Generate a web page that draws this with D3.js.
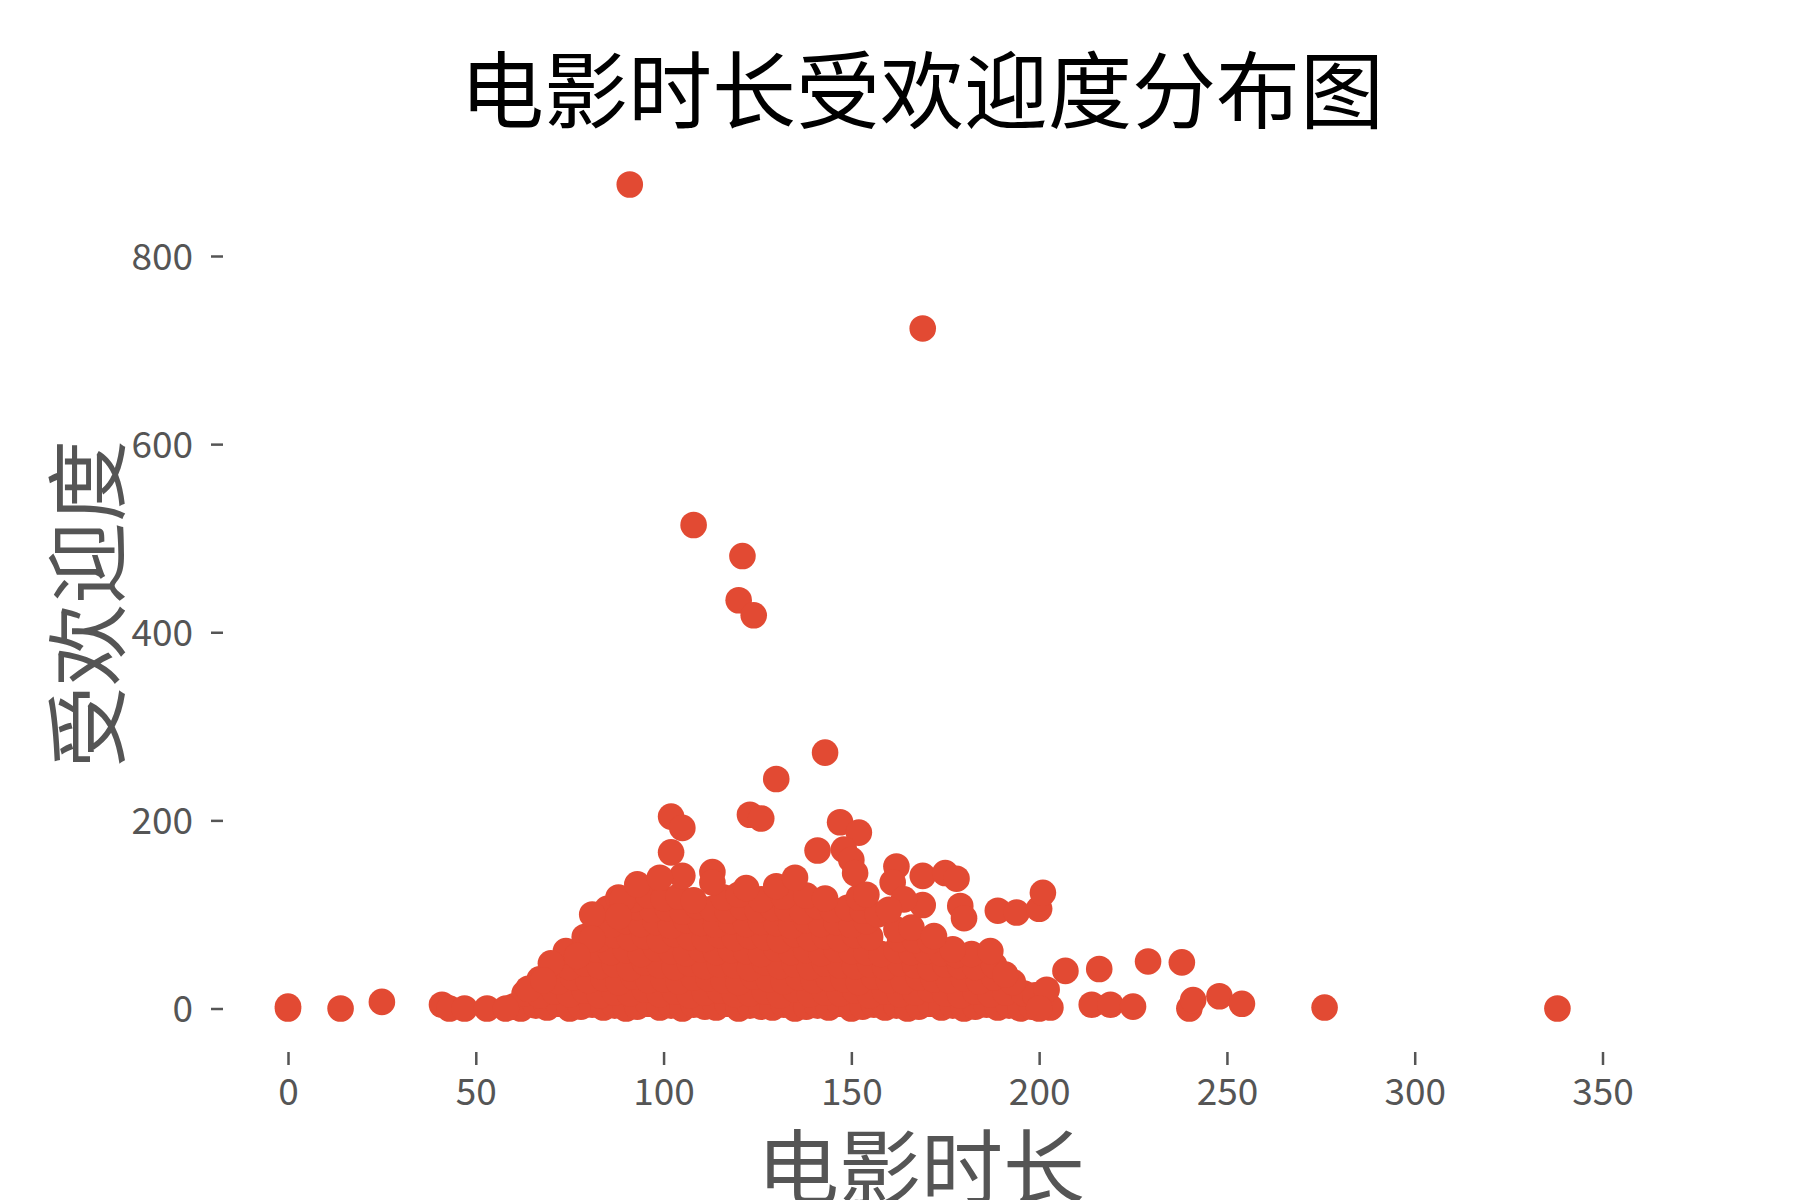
<!DOCTYPE html>
<html><head><meta charset="utf-8">
<script src="https://cdn.jsdelivr.net/npm/d3@7"></script>
<style>html,body{margin:0;padding:0;background:#fff;}svg{display:block;}</style>
</head><body>
<script>
// ---- data (duration in minutes, popularity) ----
const chartTitle = "电影时长受欢迎度分布图";
const xLabel = "电影时长";
const yLabel = "受欢迎度";
const xTicks = [0, 50, 100, 150, 200, 250, 300, 350];
const yTicks = [0, 200, 400, 600, 800];

// outliers and sparse points
const durationsSparse = [91,169,108,121,120,124,143,130,102,105,123,126,147,152,102,113,141,148,150,162,169,175,178,151,105,113,161,169,164,154,81,89,93,99,122,130,135,70,81,77,88,160,179,180,189,194,200,201,187,177,172,191,202,200,207,216,229,238,214,219,225,240,241,248,254,276,338,0,0,14,25,41,43,47,53,58,64,68];
const popularitySparse = [876,723,514,481,434,418,272,244,204,192,206,202,198,187,166,145,168,169,158,151,141,144,138,144,141,134,134,110,116,121,100,116,132,139,128,130,139,48,74,56,98,105,109,96,104,102,106,123,61,63,77,36,20,0,40,42,50,49,4,4,2,0,9,13,5,1,0,0,2,0,7,4,0,0,0,0,21,30];

// dense cluster rows
const durationsDense = [
 60,62,66,69,72,75,78,81,84,87,90,93,96,99,102,105,108,111,114,117,120,123,126,129,132,135,138,141,144,147,150,153,156,159,162,165,168,171,174,177,180,183,186,189,192,195,198,203,
 63,67,71,75,79,83,87,91,95,99,103,107,111,115,119,123,127,131,135,139,143,147,151,155,159,163,167,171,175,179,183,187,191,196,199,
 67,72,76,80,84,88,92,96,100,104,108,112,116,120,124,128,132,136,140,144,148,152,156,160,164,168,172,176,180,184,188,193,
 71,75,79,83,87,91,95,99,103,107,111,115,119,123,127,131,135,139,143,147,151,155,159,163,167,171,175,179,183,188,
 74,78,82,86,90,94,98,102,106,110,114,118,122,126,130,134,138,142,146,150,154,158,162,166,170,174,178,182,
 79,83,87,91,95,99,103,107,111,115,119,123,127,131,135,139,143,147,151,155,163,167,171,
 82,86,90,94,98,102,106,110,114,118,122,126,130,134,138,142,146,150,154,162,166,
 85,89,93,97,101,105,109,113,117,121,125,129,133,137,141,145,149,153,157,
 88,92,96,100,104,108,116,120,126,132,138,143,152
];
const popularityDense = [
 2,0,3,1,5,0,2,4,1,3,0,2,5,1,3,0,4,2,1,5,0,3,2,1,4,0,2,3,1,5,0,2,4,1,3,0,2,5,1,3,0,2,4,1,3,0,2,1,
 16,14,18,15,19,14,17,16,20,15,18,14,17,19,15,16,18,14,20,15,17,16,19,14,18,15,17,20,16,14,18,15,17,16,14,
 31,29,33,30,32,28,34,30,31,29,33,32,30,28,34,31,29,33,30,32,31,28,34,30,29,33,31,30,32,29,33,28,
 46,44,48,45,47,43,49,46,44,48,45,47,46,43,49,45,47,44,48,46,45,47,44,48,46,43,47,45,44,46,
 61,59,63,60,62,58,64,61,59,63,60,62,61,58,64,60,62,59,63,61,60,58,62,60,61,59,57,58,
 76,74,78,75,77,73,79,76,74,78,75,77,76,73,79,75,77,74,78,76,74,73,72,
 91,89,93,90,92,88,94,91,89,93,90,92,91,88,94,90,92,89,93,84,86,
 106,104,108,105,107,103,109,106,104,108,105,107,106,103,109,105,107,104,100,
 118,116,120,117,119,115,118,121,116,119,120,117,118
];

const W = 1800, H = 1200;
const svg = d3.select("body").append("svg").attr("width", W).attr("height", H)
  .style("font-family", "'Noto Sans CJK SC', 'Noto Sans', sans-serif");

const x = d3.scaleLinear().domain([0, 350]).range([288, 1602.5]);
const y = d3.scaleLinear().domain([0, 800]).range([1008.5, 256]);
const axisLeftX = 223, axisBottomY = 1052;

const points = durationsDense.map((d, i) => ({d, p: popularityDense[i]}))
  .concat(durationsSparse.map((d, i) => ({d, p: popularitySparse[i]})));

svg.append("g").selectAll("circle").data(points).join("circle")
  .attr("cx", v => x(v.d)).attr("cy", v => y(v.p)).attr("r", 13.3)
  .attr("fill", "#E24A33");

const gx = svg.append("g").attr("transform", `translate(0,${axisBottomY})`)
  .call(d3.axisBottom(x).tickValues(xTicks).tickSize(13).tickPadding(14));
const gy = svg.append("g").attr("transform", `translate(${axisLeftX},0)`)
  .call(d3.axisLeft(y).tickValues(yTicks).tickSize(12).tickPadding(18));
[gx, gy].forEach(g => {
  g.select(".domain").remove();
  g.selectAll(".tick line").attr("stroke", "#555555").attr("stroke-width", 2.5);
  g.selectAll(".tick text").attr("fill", "#555555").style("font-size", "37px")
    .style("font-family", "'Noto Sans CJK SC', sans-serif");
});
gy.selectAll(".tick text").attr("dy", "0.36em");

svg.append("text").attr("x", 922).attr("y", 122).attr("text-anchor", "middle")
  .style("font-size", "84px").attr("fill", "#000").text(chartTitle);
svg.append("text").attr("x", 921).attr("y", 1198).attr("text-anchor", "middle")
  .style("font-size", "82px").attr("fill", "#555555").text(xLabel);
svg.append("text").attr("transform", "translate(118,604) rotate(-90)").attr("text-anchor", "middle")
  .style("font-size", "82px").attr("fill", "#555555").text(yLabel);
</script>
</body></html>
